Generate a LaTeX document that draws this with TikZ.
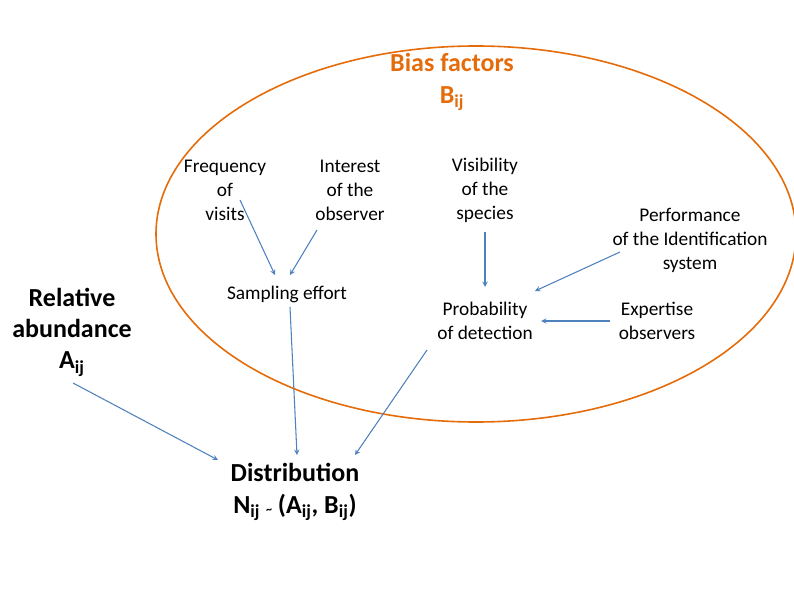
\documentclass[tikz,border=0pt]{standalone}
\usepackage{fontspec}
\setmainfont{Carlito}
\definecolor{org}{RGB}{228,108,10}
\definecolor{blu}{RGB}{79,129,189}
\begin{document}
\begin{tikzpicture}[x=0.75pt,y=-0.75pt,
 t/.style={align=center,font=\fontsize{14.5}{18}\selectfont},
 b/.style={align=center,font=\fontsize{19.5}{23.5}\selectfont\bfseries},
 ar/.style={blu,-stealth,line width=0.8pt}]
\useasboundingbox (0,0) rectangle (794,599);
\draw[org,line width=1.2pt] (476,234) ellipse [x radius=320,y radius=188];
\node[b,org] (bias) at (452,82) {Bias factors\\B\textsubscript{ij}};
\node[t] (freq) at (225,190) {Frequency\\of\\visits};
\node[t] (int) at (350,190) {Interest\\of the\\observer};
\node[t] (vis) at (485,190) {Visibility\\of the\\species};
\node[t] (perf) at (690,240) {Performance\\of the Identification\\system};
\node[t] (samp) at (287,294) {Sampling effort};
\node[t] (prob) at (485,321) {Probability\\of detection};
\node[t] (exp) at (657,321) {Expertise\\observers};
\node[b] (rel) at (72,332) {Relative\\abundance\\A\textsubscript{ij}};
\node[b] (dist) at (295,492) {Distribution\\N\textsubscript{ij} {\small\textasciitilde} (A\textsubscript{ij}, B\textsubscript{ij})};
\coordinate (f1) at (240,200); \coordinate (f2) at (275,275);
\draw[ar] (f1) -- (f2);
\coordinate (i1) at (317,230); \coordinate (i2) at (290,275);
\draw[ar] (i1) -- (i2);
\draw[ar] (485,232) -- (485,287);
\draw[ar] (620,252) -- (535,291);
\draw[ar] (610,321) -- (541,321);
\draw[ar] (290,307) -- (297,455);
\draw[ar] (427,350) -- (355,455);
\draw[ar] (73,383) -- (218,460);
\end{tikzpicture}
\end{document}
